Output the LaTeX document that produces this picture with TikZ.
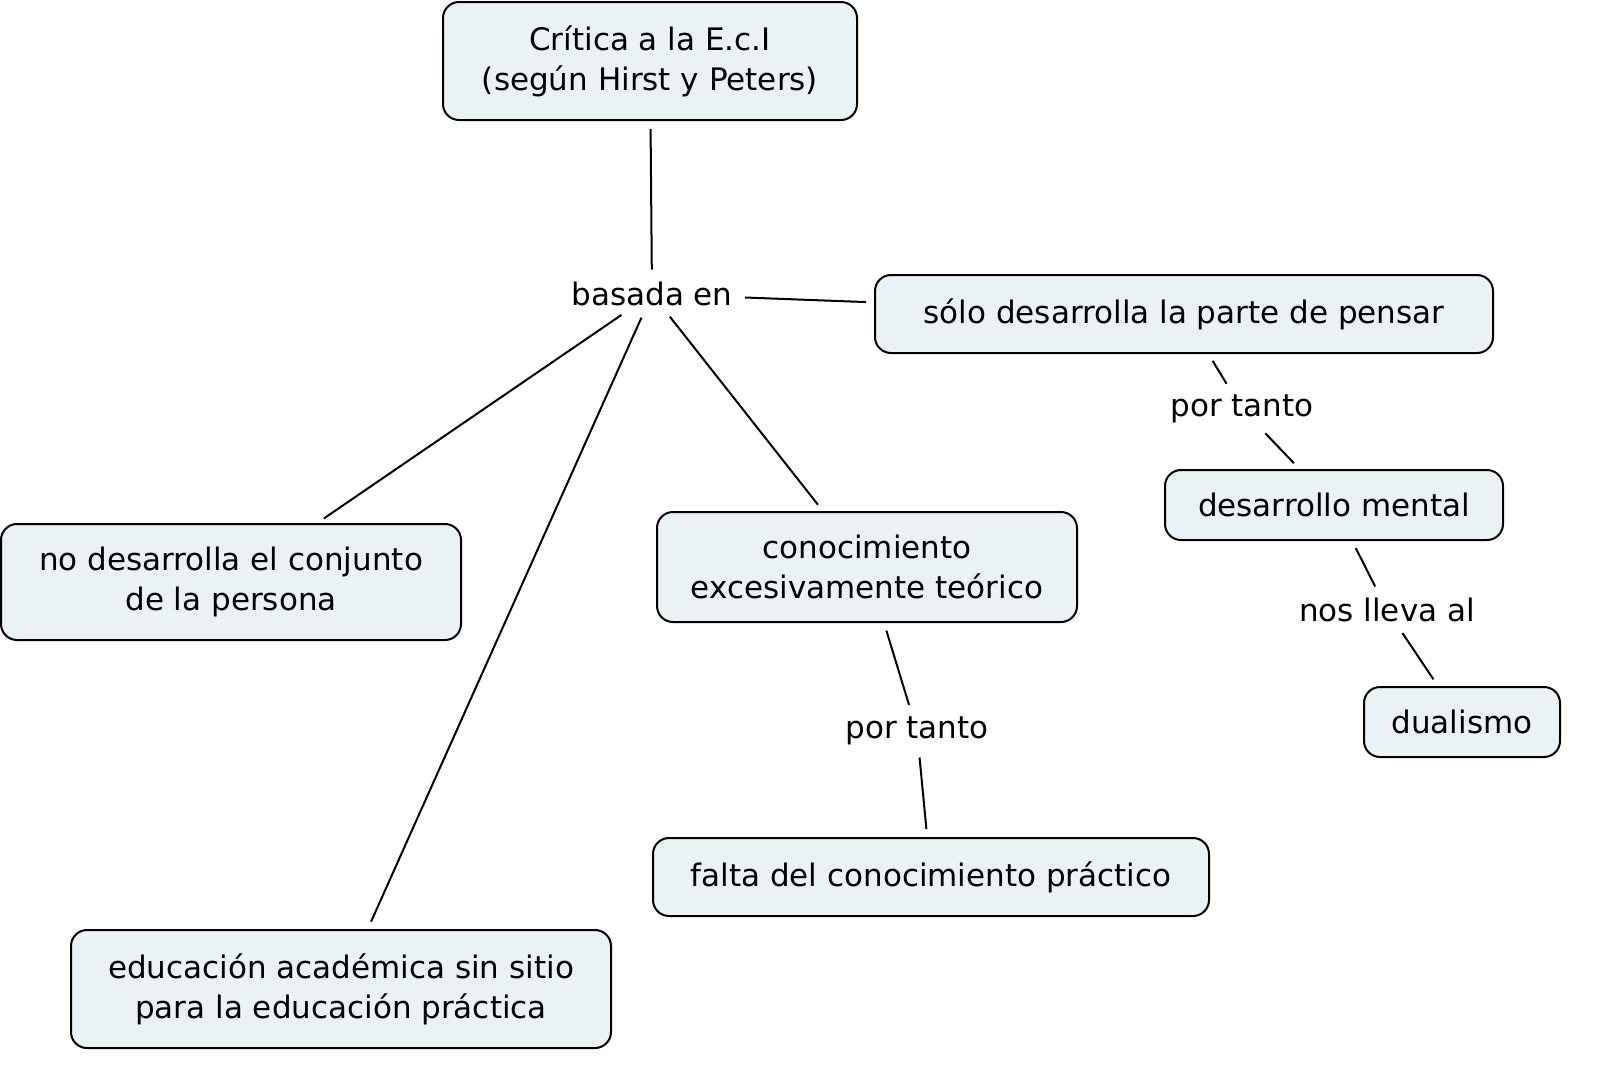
\documentclass[tikz,border=0pt]{standalone}
\usepackage{fontspec}
\setmainfont{DejaVu Sans}
\begin{document}
\begin{tikzpicture}[x=0.5pt,y=-0.5pt,
  box/.style={draw,line width=1pt,rounded corners=8pt,fill={rgb,255:red,234;green,242;blue,245},align=center,font=\fontsize{15.5}{20}\selectfont,inner sep=0pt},
  lbl/.style={align=center,font=\fontsize{15.5}{20}\selectfont,inner sep=2pt},
  con/.style={line width=1pt,shorten <=4pt,shorten >=4pt}]
\useasboundingbox (0,0) rectangle (1600,1078);
\node[box,minimum width=207pt,minimum height=59pt] (top) at (650,61) {Crítica a la E.c.I\\(según Hirst y Peters)};
\node[lbl] (bas) at (652,294) {basada en};
\node[box,minimum width=309pt,minimum height=39pt] (solo) at (1184,314) {sólo desarrolla la parte de pensar};
\node[lbl] (pt1) at (1242,409) {por tanto};
\node[box,minimum width=169pt,minimum height=35pt] (dm) at (1334,505) {desarrollo mental};
\node[lbl] (nos) at (1387,610) {nos lleva al};
\node[box,minimum width=98pt,minimum height=35pt] (dual) at (1462,722) {dualismo};
\node[box,minimum width=230pt,minimum height=58pt] (no) at (231,582) {no desarrolla el conjunto\\de la persona};
\node[box,minimum width=210pt,minimum height=55pt] (con) at (867,567) {conocimiento\\excesivamente teórico};
\node[lbl] (pt2) at (917,731) {por tanto};
\node[box,minimum width=278pt,minimum height=39pt] (falta) at (931,877) {falta del conocimiento práctico};
\node[box,minimum width=270pt,minimum height=59pt] (edu) at (341,989) {educación académica sin sitio\\para la educación práctica};
\draw[con] (top) -- (bas);
\draw[con] (bas) -- (solo);
\draw[con] (bas) -- (no);
\draw[con] (bas) -- (edu);
\draw[con] (bas) -- (con);
\draw[con] (solo) -- (pt1);
\draw[con] (pt1) -- (dm);
\draw[con] (dm) -- (nos);
\draw[con] (nos) -- (dual);
\draw[con] (con) -- (pt2);
\draw[con] (pt2) -- (falta);
\end{tikzpicture}
\end{document}
